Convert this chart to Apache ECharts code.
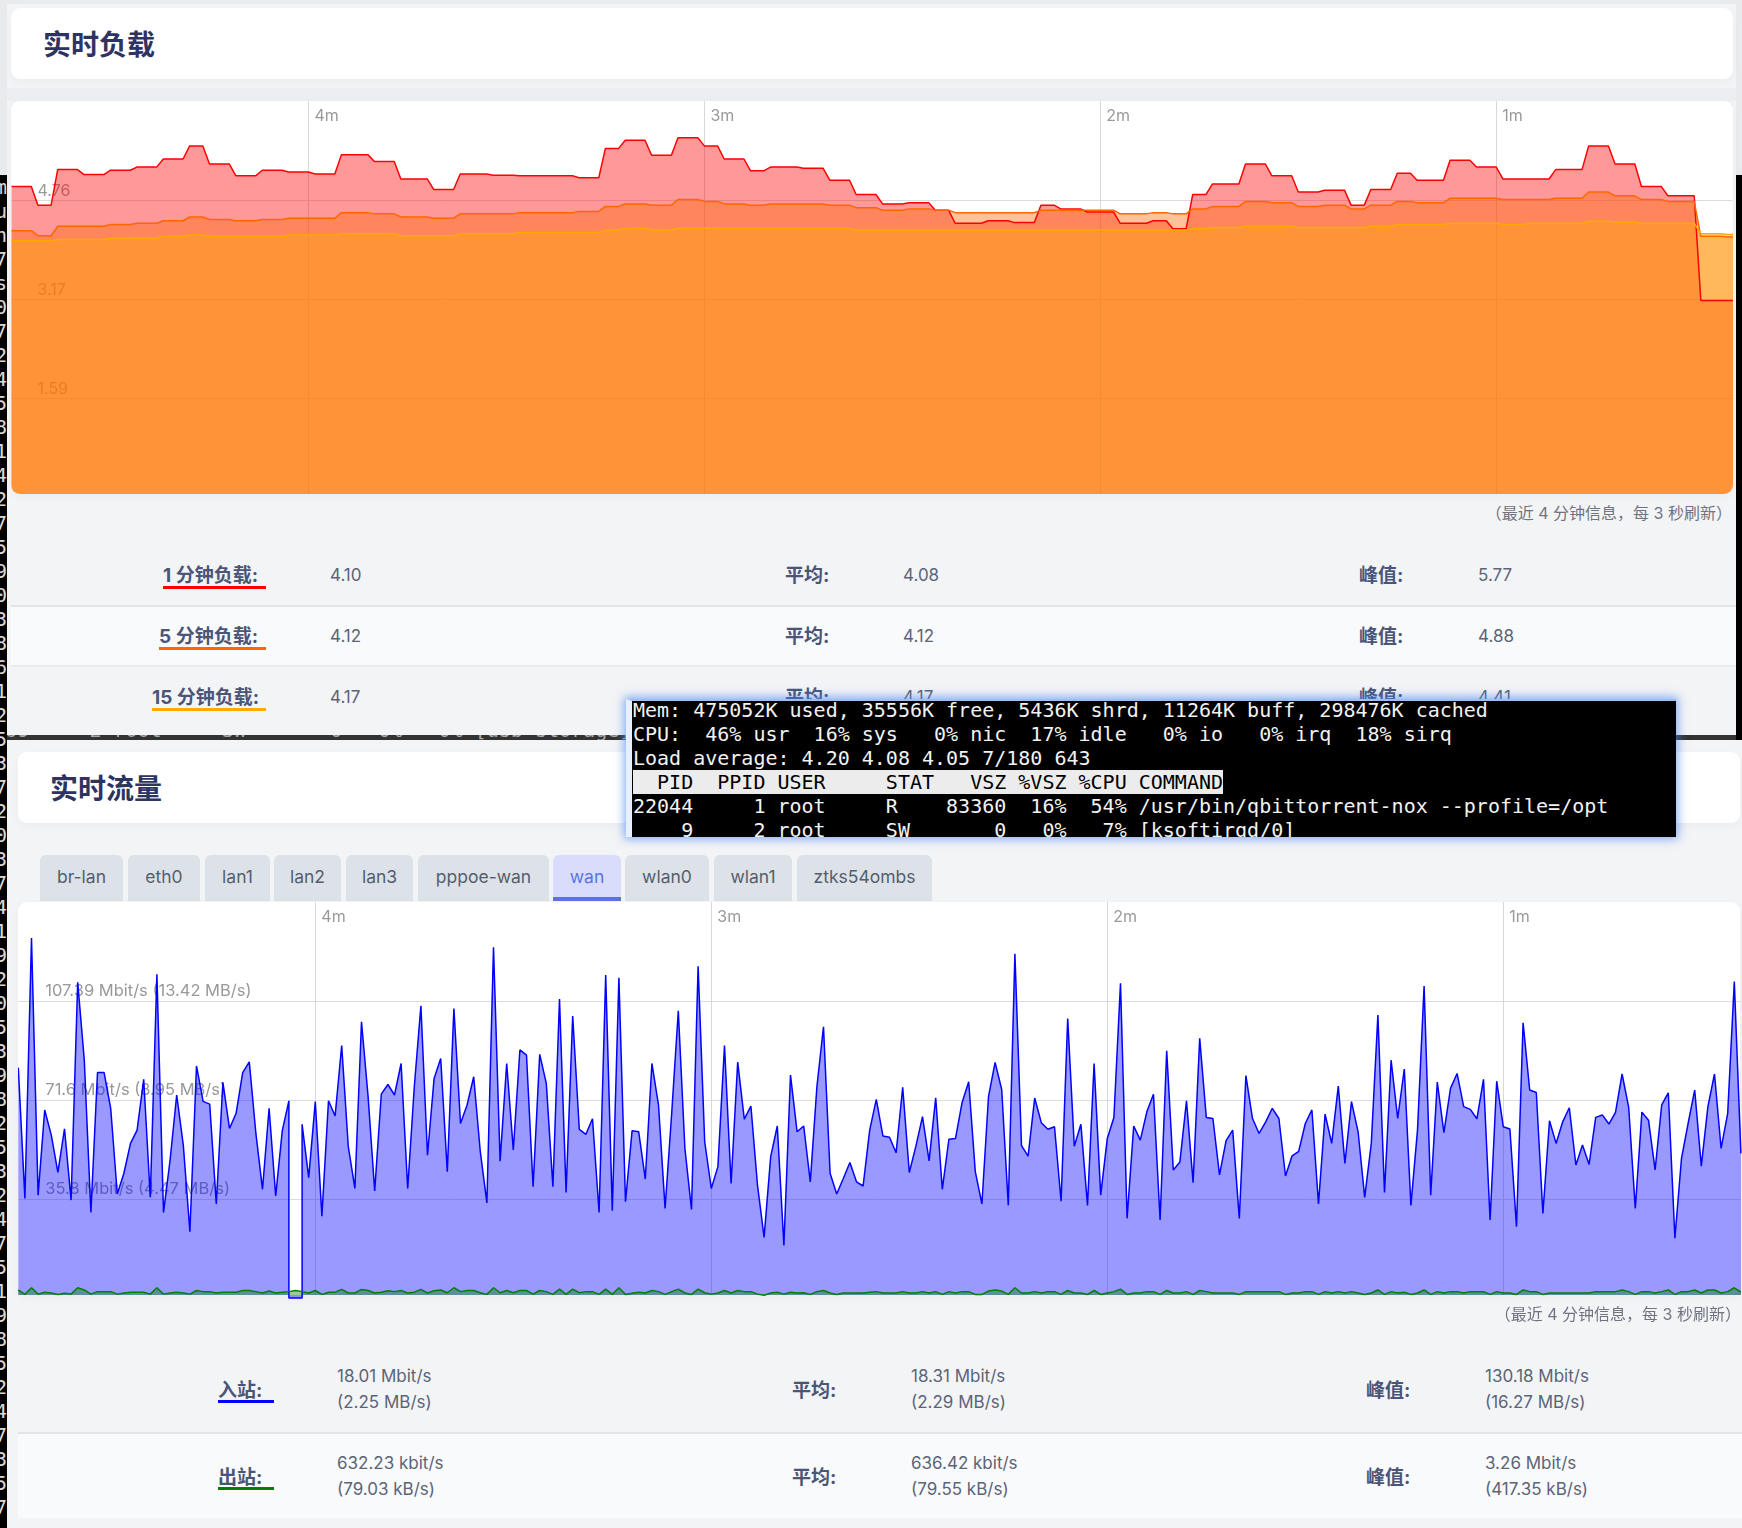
<!DOCTYPE html>
<html>
<head>
<meta charset="utf-8">
<title>realtime</title>
<script src="https://cdn.jsdelivr.net/npm/echarts@6/dist/echarts.min.js"></script>
<style>
html, body { margin: 0; padding: 0; background: #000; }
body { position: relative; width: 1742px; height: 1528px; overflow: hidden;
  font-family: Inter, "Noto Sans CJK SC", sans-serif; }
div { box-sizing: border-box; }
.abs { position: absolute; }
.win { position: absolute; background: #f3f4f6; }
.card { position: absolute; background: #fff; border-radius: 9px; box-shadow: 0 3px 10px rgba(0,0,0,.035); }
.title { position: absolute; font-weight: 700; font-size: 28px; color: #2d3460; transform: translateY(-50%); white-space: nowrap; }
.t { position: absolute; transform: translateY(-50%); margin-top: 1px; white-space: nowrap; font-size: 17px; color: #5b6478; }
.b { font-weight: 700; font-size: 19px; color: #4a5578; margin-top: -1px; }
.note { position: absolute; transform: translateY(-50%); white-space: nowrap; font-size: 16px; color: #6f7480; text-align: right; }
.line { position: absolute; height: 3px; }
.row { position: absolute; background: #f9fafb; border-top: 2px solid #e2e4e8; }
.tab { position: absolute; top: 855px; height: 46px; background: #dde2e8; border-radius: 6px 6px 0 0;
  font-size: 17.5px; color: #555e6e; text-align: center; line-height: 43px; }
.tab.on { background: #d9ddfb; color: #5e72e4; border-bottom: 4px solid #5e72e4; }
.chart { position: absolute; }
#term { position: absolute; left: 626px; top: 699px; width: 1050px; height: 138px; background: #000; overflow: hidden;
  border-left: 6px solid #e8f0ff; border-top: 2px solid #9cc0f5; box-shadow: 0 0 9px 2px rgba(70,130,240,.65); }
pre { margin: 0; font-family: "DejaVu Sans Mono", monospace; font-size: 20px; line-height: 24px; }
#term pre { color: #f2f2f2; margin: -3px 0 0 1px; }
#term .inv { background: #ececec; color: #000; display: inline-block; }
.strip { position: absolute; background: #000; overflow: hidden; }
.strip pre { color: #d8d8d8; margin-left: -5px; }
</style>
</head>
<body>

<!-- whatever sits behind the two windows -->
<div class="abs" style="left:0;top:0;width:1742px;height:175px;background:#e9eaec"></div>
<div class="strip" style="left:0;top:175px;width:8px;height:1353px"><pre>m
u
n
7
s
0
7
2
4
5
8
1
4
2
7
5
9
0
3
8
6
1
2
5
3
7
2
0
3
7
4
1
9
2
0
5
3
9
8
2
5
3
2
4
7
5
1
9
8
5
2
4
7
3
5
7</pre></div>

<!-- load window -->
<div class="win" style="left:7px;top:4px;width:1729px;height:732px"></div>
<div class="abs" style="left:7px;top:88px;width:1729px;height:13px;background:#eceef1"></div>
<div class="card" style="left:11px;top:8px;width:1722px;height:71px"></div>
<div class="title" style="left:43px;top:43px">实时负载</div>
<div class="card" style="left:11px;top:101px;width:1722px;height:393px"></div>
<div id="loadChart" class="chart" style="left:11px;top:101px;width:1722px;height:393px;border-radius:9px;overflow:hidden"></div>
<div class="note" style="right:10px;top:512px">（最近 4 分钟信息，每 3 秒刷新）</div>

<div class="row" style="left:11px;top:605px;width:1725px;height:61px"></div>
<div class="abs" style="left:11px;top:665px;width:1725px;height:2px;background:#e8eaed"></div>

<div class="t b" style="left:163px;top:574px">1 分钟负载:</div>
<div class="line" style="left:163px;top:586px;width:103px;background:#ff0000"></div>
<div class="t" style="left:330px;top:574px">4.10</div>
<div class="t b" style="left:785px;top:574px">平均:</div>
<div class="t" style="left:903px;top:574px">4.08</div>
<div class="t b" style="left:1359px;top:574px">峰值:</div>
<div class="t" style="left:1478px;top:574px">5.77</div>

<div class="t b" style="left:159px;top:635px">5 分钟负载:</div>
<div class="line" style="left:159px;top:647px;width:107px;background:#ff6600"></div>
<div class="t" style="left:330px;top:635px">4.12</div>
<div class="t b" style="left:785px;top:635px">平均:</div>
<div class="t" style="left:903px;top:635px">4.12</div>
<div class="t b" style="left:1359px;top:635px">峰值:</div>
<div class="t" style="left:1478px;top:635px">4.88</div>

<div class="t b" style="left:152px;top:696px">15 分钟负载:</div>
<div class="line" style="left:152px;top:708px;width:114px;background:#ffaa00"></div>
<div class="t" style="left:330px;top:696px">4.17</div>
<div class="t b" style="left:785px;top:696px">平均:</div>
<div class="t" style="left:903px;top:696px">4.17</div>
<div class="t b" style="left:1359px;top:696px">峰值:</div>
<div class="t" style="left:1478px;top:696px">4.41</div>

<!-- edge of the terminal showing between the windows -->
<div class="abs" style="left:7px;top:735px;width:1729px;height:5px;background:#333;overflow:hidden"><pre style="position:absolute;left:-38px;top:-17px;color:#aaa">  569     2 root     SW       0   0%   0% [usb-storage]</pre></div>

<!-- traffic window -->
<div class="win" style="left:7px;top:740px;width:1735px;height:788px"></div>
<div class="card" style="left:18px;top:752px;width:1722px;height:71px"></div>
<div class="title" style="left:50px;top:787px">实时流量</div>

<div class="tab" style="left:40px;width:83px">br-lan</div>
<div class="tab" style="left:128px;width:72px">eth0</div>
<div class="tab" style="left:205px;width:65px">lan1</div>
<div class="tab" style="left:274px;width:67px">lan2</div>
<div class="tab" style="left:346px;width:67px">lan3</div>
<div class="tab" style="left:418px;width:131px">pppoe-wan</div>
<div class="tab on" style="left:553px;width:68px">wan</div>
<div class="tab" style="left:625px;width:84px">wlan0</div>
<div class="tab" style="left:714px;width:78px">wlan1</div>
<div class="tab" style="left:797px;width:135px">ztks54ombs</div>

<div class="card" style="left:18px;top:902px;width:1722px;height:393px"></div>
<div id="trafficChart" class="chart" style="left:18px;top:902px;width:1724px;height:400px"></div>
<div class="note" style="right:1px;top:1313px">（最近 4 分钟信息，每 3 秒刷新）</div>

<div class="row" style="left:18px;top:1432px;width:1724px;height:86px"></div>

<div class="t b" style="left:218px;top:1389px">入站:</div>
<div class="line" style="left:218px;top:1400px;width:56px;background:#0000ff"></div>
<div class="t" style="left:337px;top:1375px">18.01 Mbit/s</div>
<div class="t" style="left:337px;top:1401px">(2.25 MB/s)</div>
<div class="t b" style="left:792px;top:1389px">平均:</div>
<div class="t" style="left:911px;top:1375px">18.31 Mbit/s</div>
<div class="t" style="left:911px;top:1401px">(2.29 MB/s)</div>
<div class="t b" style="left:1366px;top:1389px">峰值:</div>
<div class="t" style="left:1485px;top:1375px">130.18 Mbit/s</div>
<div class="t" style="left:1485px;top:1401px">(16.27 MB/s)</div>

<div class="t b" style="left:218px;top:1476px">出站:</div>
<div class="line" style="left:218px;top:1487px;width:56px;background:#008000"></div>
<div class="t" style="left:337px;top:1462px">632.23 kbit/s</div>
<div class="t" style="left:337px;top:1488px">(79.03 kB/s)</div>
<div class="t b" style="left:792px;top:1476px">平均:</div>
<div class="t" style="left:911px;top:1462px">636.42 kbit/s</div>
<div class="t" style="left:911px;top:1488px">(79.55 kB/s)</div>
<div class="t b" style="left:1366px;top:1476px">峰值:</div>
<div class="t" style="left:1485px;top:1462px">3.26 Mbit/s</div>
<div class="t" style="left:1485px;top:1488px">(417.35 kB/s)</div>

<!-- top output pasted over the page -->
<div id="term"><pre>Mem: 475052K used, 35556K free, 5436K shrd, 11264K buff, 298476K cached
CPU:  46% usr  16% sys   0% nic  17% idle   0% io   0% irq  18% sirq
Load average: 4.20 4.08 4.05 7/180 643
<span class="inv">  PID  PPID USER     STAT   VSZ %VSZ %CPU COMMAND</span>
22044     1 root     R    83360  16%  54% /usr/bin/qbittorrent-nox --profile=/opt
    9     2 root     SW       0   0%   7% [ksoftirqd/0]</pre></div>

<script>
// samples are one step apart, ticks sit on these sample numbers
var timeTicks = [45, 105, 165, 225];
var timeLabels = ['4m', '3m', '2m', '1m'];

var loadTicks = [1.59, 3.17, 4.76];
var loadTickLabels = ['1.59', '3.17', '4.76'];

var trafficTicks = [35.8, 71.6, 107.39];
var trafficTickLabels = ['35.8 Mbit/s (4.47 MB/s)', '71.6 Mbit/s (8.95 MB/s)', '107.39 Mbit/s (13.42 MB/s)'];

// 1 minute load
var load1 = [
  4.98, 4.98, 4.98, 4.98, 4.68, 4.68, 4.68, 5.25, 5.25, 5.25, 5.25, 5.17, 5.17, 5.17, 5.17,
  5.24, 5.24, 5.24, 5.24, 5.29, 5.29, 5.29, 5.29, 5.42, 5.42, 5.42, 5.42, 5.63, 5.63, 5.63,
  5.34, 5.34, 5.34, 5.34, 5.15, 5.15, 5.15, 5.15, 5.24, 5.24, 5.24, 5.24, 5.21, 5.21, 5.21, 5.21,
  5.18, 5.18, 5.18, 5.18, 5.49, 5.49, 5.49, 5.49, 5.49, 5.38, 5.38, 5.38, 5.38,
  5.10, 5.10, 5.10, 5.10, 5.10, 4.93, 4.93, 4.93, 4.93, 5.18, 5.18, 5.18, 5.18, 5.18,
  5.16, 5.16, 5.16, 5.16, 5.15, 5.15, 5.15, 5.15, 5.15, 5.15, 5.15, 5.15, 5.15, 5.12, 5.12, 5.12, 5.12,
  5.59, 5.59, 5.59, 5.72, 5.72, 5.72, 5.72, 5.48, 5.48, 5.48, 5.48, 5.76, 5.76, 5.76, 5.76,
  5.63, 5.63, 5.63, 5.42, 5.42, 5.42, 5.42, 5.23, 5.23, 5.23, 5.29, 5.29, 5.29, 5.29, 5.29,
  5.27, 5.27, 5.27, 5.27, 5.08, 5.08, 5.08, 5.08, 4.85, 4.85, 4.85, 4.85, 4.70, 4.70, 4.70, 4.70,
  4.72, 4.72, 4.72, 4.72, 4.60, 4.60, 4.60, 4.39, 4.39, 4.39, 4.39, 4.39, 4.43, 4.43, 4.43, 4.43,
  4.40, 4.40, 4.40, 4.40, 4.68, 4.68, 4.68, 4.62, 4.62, 4.62, 4.62, 4.57, 4.57, 4.57, 4.57, 4.57,
  4.39, 4.39, 4.39, 4.39, 4.39, 4.43, 4.43, 4.43, 4.30, 4.30, 4.30, 4.85, 4.85, 4.85,
  5.02, 5.02, 5.02, 5.02, 5.02, 5.34, 5.34, 5.34, 5.34, 5.15, 5.15, 5.15, 5.15, 4.89, 4.89, 4.89, 4.89,
  4.92, 4.92, 4.92, 4.92, 4.68, 4.68, 4.68, 4.93, 4.93, 4.93, 4.93, 5.19, 5.19, 5.19,
  5.08, 5.08, 5.08, 5.08, 5.08, 5.40, 5.40, 5.40, 5.40, 5.29, 5.29, 5.29, 5.29,
  5.10, 5.10, 5.10, 5.10, 5.10, 5.10, 5.10, 5.10, 5.25, 5.25, 5.25, 5.25, 5.25,
  5.63, 5.63, 5.63, 5.63, 5.34, 5.34, 5.34, 5.34, 4.98, 4.98, 4.98, 4.98,
  4.83, 4.83, 4.83, 4.83, 4.83, 3.15, 3.15, 3.15, 3.15, 3.15, 3.15
];

// 5 minute load
var load5 = [
  4.27, 4.27, 4.27, 4.27, 4.19, 4.19, 4.19, 4.34, 4.34, 4.34, 4.34, 4.34, 4.34, 4.34, 4.34,
  4.37, 4.37, 4.37, 4.37, 4.39, 4.39, 4.39, 4.39, 4.43, 4.43, 4.43, 4.43, 4.49, 4.49, 4.49,
  4.45, 4.45, 4.45, 4.45, 4.43, 4.43, 4.43, 4.43, 4.45, 4.45, 4.45, 4.45,
  4.47, 4.47, 4.47, 4.47, 4.47, 4.47, 4.47, 4.47, 4.56, 4.56, 4.56, 4.56, 4.56, 4.54, 4.54, 4.54, 4.54,
  4.49, 4.49, 4.49, 4.49, 4.49, 4.47, 4.47, 4.47, 4.47, 4.54, 4.54, 4.54, 4.54, 4.54, 4.54, 4.54, 4.54, 4.54,
  4.56, 4.56, 4.56, 4.56, 4.56, 4.56, 4.56, 4.56, 4.56, 4.58, 4.58, 4.58, 4.58,
  4.66, 4.66, 4.66, 4.70, 4.70, 4.70, 4.70, 4.68, 4.68, 4.68, 4.68, 4.77, 4.77, 4.77, 4.77,
  4.74, 4.74, 4.74, 4.70, 4.70, 4.70, 4.70, 4.68, 4.68, 4.68, 4.70, 4.70, 4.70, 4.70, 4.70, 4.70, 4.70, 4.70, 4.70,
  4.68, 4.68, 4.68, 4.68, 4.64, 4.64, 4.64, 4.64, 4.60, 4.60, 4.60, 4.60, 4.62, 4.62, 4.62, 4.62, 4.60, 4.60, 4.60,
  4.56, 4.56, 4.56, 4.56, 4.56, 4.56, 4.56, 4.56, 4.56, 4.56, 4.56, 4.56, 4.56,
  4.60, 4.60, 4.60, 4.60, 4.60, 4.60, 4.60, 4.60, 4.60, 4.60, 4.60, 4.60,
  4.54, 4.54, 4.54, 4.54, 4.54, 4.56, 4.56, 4.56, 4.54, 4.54, 4.54, 4.62, 4.62, 4.62,
  4.66, 4.66, 4.66, 4.66, 4.66, 4.74, 4.74, 4.74, 4.74, 4.72, 4.72, 4.72, 4.72, 4.66, 4.66, 4.66, 4.66,
  4.68, 4.68, 4.68, 4.68, 4.62, 4.62, 4.62, 4.68, 4.68, 4.68, 4.68, 4.74, 4.74, 4.74,
  4.72, 4.72, 4.72, 4.72, 4.72, 4.79, 4.79, 4.79, 4.79, 4.79, 4.79, 4.79, 4.79,
  4.77, 4.77, 4.77, 4.77, 4.77, 4.77, 4.77, 4.77, 4.79, 4.79, 4.79, 4.79, 4.79,
  4.89, 4.89, 4.89, 4.89, 4.83, 4.83, 4.83, 4.83, 4.77, 4.77, 4.77, 4.77,
  4.74, 4.74, 4.74, 4.74, 4.74, 4.18, 4.18, 4.18, 4.18, 4.17, 4.17
];

// 15 minute load
var load15 = [
  4.11, 4.11, 4.11, 4.11, 4.11, 4.11, 4.11, 4.13, 4.13, 4.13, 4.13, 4.13, 4.13, 4.13, 4.13,
  4.15, 4.15, 4.15, 4.15, 4.15, 4.15, 4.15, 4.15, 4.18, 4.18, 4.18, 4.18, 4.20, 4.20, 4.20,
  4.18, 4.18, 4.18, 4.18, 4.18, 4.18, 4.18, 4.18, 4.18, 4.18, 4.18, 4.18,
  4.20, 4.20, 4.20, 4.20, 4.20, 4.20, 4.20, 4.20, 4.22, 4.22, 4.22, 4.22, 4.22, 4.22, 4.22, 4.22, 4.22,
  4.19, 4.19, 4.19, 4.19, 4.19, 4.19, 4.19, 4.19, 4.19, 4.22, 4.22, 4.22, 4.22, 4.22, 4.22, 4.22, 4.22, 4.22,
  4.24, 4.24, 4.24, 4.24, 4.24, 4.24, 4.24, 4.24, 4.24, 4.24, 4.24, 4.24, 4.24,
  4.28, 4.28, 4.28, 4.31, 4.31, 4.31, 4.31, 4.28, 4.28, 4.28, 4.28,
  4.31, 4.31, 4.31, 4.31, 4.31, 4.31, 4.31, 4.31, 4.31, 4.31, 4.31, 4.31, 4.31, 4.31,
  4.31, 4.31, 4.31, 4.31, 4.31, 4.31, 4.31, 4.31, 4.31, 4.31, 4.31, 4.31, 4.31,
  4.28, 4.28, 4.28, 4.28, 4.28, 4.28, 4.28, 4.28, 4.28, 4.28, 4.28, 4.28, 4.28, 4.28, 4.28, 4.28, 4.28,
  4.28, 4.28, 4.28, 4.28, 4.28, 4.28, 4.28, 4.28, 4.28, 4.28, 4.28, 4.28, 4.28, 4.28, 4.28, 4.28, 4.28,
  4.28, 4.28, 4.28, 4.28, 4.28, 4.28, 4.28, 4.28, 4.28, 4.28, 4.28, 4.28, 4.28, 4.28, 4.28, 4.28, 4.28,
  4.30, 4.30, 4.30, 4.32, 4.32, 4.32, 4.32, 4.32, 4.34, 4.34, 4.34, 4.34, 4.34, 4.34, 4.34, 4.34,
  4.32, 4.32, 4.32, 4.32, 4.32, 4.32, 4.32, 4.32, 4.32, 4.32, 4.32, 4.34, 4.34, 4.34, 4.34,
  4.37, 4.37, 4.37, 4.37, 4.37, 4.37, 4.37, 4.37, 4.39, 4.39, 4.39, 4.39, 4.39, 4.39, 4.39, 4.39,
  4.37, 4.37, 4.37, 4.37, 4.39, 4.39, 4.39, 4.39, 4.39, 4.39, 4.39, 4.39, 4.39,
  4.42, 4.42, 4.42, 4.42, 4.41, 4.41, 4.41, 4.41, 4.39, 4.39, 4.39, 4.39, 4.39, 4.39, 4.39, 4.39, 4.39,
  4.22, 4.22, 4.22, 4.22, 4.21, 4.21
];

// wan inbound, Mbit/s
var inbound = [
  83.3, 36.0, 130.2, 37.2, 68.0, 58.9, 45.4, 61.2, 35.4, 114.2,
  86.0, 30.9, 81.5, 81.5, 68.6, 37.6, 45.1, 55.9, 60.7, 79.1,
  36.4, 117.1, 30.9, 49.9, 73.4, 55.3, 24.0, 83.9, 71.1, 70.1,
  34.0, 78.0, 61.3, 66.8, 81.5, 85.4, 59.5, 39.3, 68.6, 36.9,
  60.5, 71.3, 0, 62.8, 43.5, 71.0, 29.6, 71.3, 65.8, 91.3,
  54.7, 39.6, 99.9, 72.8, 38.7, 73.7, 77.2, 73.4, 84.8, 39.6,
  76.4, 105.7, 51.6, 79.4, 86.6, 45.7, 104.7, 63.1, 69.8, 80.0,
  52.9, 34.4, 126.8, 49.5, 84.8, 53.5, 89.7, 87.8, 40.2, 88.1,
  77.6, 40.2, 108.1, 38.2, 102.0, 61.0, 59.2, 64.8, 30.9, 116.8,
  31.6, 115.8, 34.8, 60.5, 60.1, 43.0, 84.8, 69.8, 32.4, 66.8,
  103.9, 54.1, 32.0, 120.0, 56.5, 39.6, 47.5, 91.3, 41.4, 85.3,
  64.7, 69.4, 40.8, 21.9, 51.1, 62.2, 19.0, 80.6, 60.1, 62.2,
  42.0, 76.4, 98.1, 45.1, 37.6, 43.2, 49.0, 42.0, 40.5, 60.7,
  71.8, 58.6, 58.1, 52.5, 76.2, 45.4, 54.9, 65.6, 49.6, 72.4,
  39.3, 57.4, 57.7, 70.7, 78.2, 45.7, 34.0, 72.8, 85.2, 75.4,
  33.5, 124.5, 55.1, 51.3, 72.3, 63.4, 61.0, 61.9, 35.0, 101.1,
  54.9, 62.8, 33.5, 84.8, 37.2, 57.7, 65.3, 113.8, 28.8, 62.2,
  57.1, 67.4, 73.7, 28.2, 89.4, 46.3, 49.2, 71.3, 41.7, 93.9,
  65.3, 64.9, 44.5, 56.9, 60.7, 28.8, 80.4, 64.9, 59.5, 63.7,
  68.6, 64.9, 44.1, 51.4, 53.0, 63.1, 68.0, 34.0, 66.5, 55.9,
  76.6, 48.7, 71.0, 60.1, 36.4, 55.9, 102.3, 38.2, 86.0, 64.9,
  82.8, 33.5, 60.7, 112.8, 37.2, 78.1, 59.8, 75.8, 81.2, 69.2,
  68.2, 64.8, 79.1, 28.2, 78.4, 61.9, 61.1, 25.8, 99.5, 75.2,
  74.3, 30.6, 64.1, 55.9, 63.7, 68.8, 48.1, 55.3, 48.3, 65.3,
  66.2, 62.9, 67.1, 81.0, 68.9, 32.4, 67.2, 64.3, 46.3, 69.8,
  74.2, 21.6, 50.5, 63.1, 75.2, 47.7, 69.2, 81.0, 54.1, 66.8,
  114.4, 52.3
];

// wan outbound, Mbit/s
var outbound = [
  2.9, 1.3, 3.7, 1.4, 2.1, 1.8, 1.3, 1.7, 1.4, 3.7,
  2.9, 1.4, 2.3, 2.3, 2.3, 1.4, 1.8, 2.1, 2.1, 2.1,
  1.4, 3.7, 1.4, 1.8, 2.1, 1.8, 1.4, 2.7, 2.3, 2.3,
  1.8, 2.1, 2.1, 2.1, 2.7, 2.7, 2.3, 1.8, 2.5, 1.8,
  2.1, 2.3, 2.7, 2.3, 1.8, 2.7, 1.3, 2.1, 2.1, 3.1,
  1.8, 1.8, 3.1, 2.7, 1.8, 2.1, 2.6, 2.3, 2.7, 1.8,
  2.1, 3.1, 1.8, 2.6, 2.9, 1.9, 3.7, 2.3, 2.7, 2.7,
  1.9, 1.3, 3.7, 1.9, 2.7, 1.9, 2.7, 2.7, 1.4, 2.7,
  2.3, 1.3, 3.2, 1.3, 3.2, 1.9, 2.3, 2.3, 1.3, 3.2,
  1.3, 3.7, 1.3, 1.7, 2.1, 1.8, 2.7, 2.3, 1.3, 2.3,
  3.2, 1.8, 1.3, 3.2, 1.9, 1.4, 1.8, 2.7, 1.8, 2.7,
  2.3, 2.3, 1.4, 1.0, 1.8, 2.1, 1.4, 2.1, 1.8, 1.9,
  1.3, 2.3, 2.7, 1.8, 1.3, 1.8, 1.8, 1.8, 1.8, 2.1,
  2.3, 1.8, 1.8, 1.8, 2.3, 1.8, 1.8, 2.3, 1.8, 2.3,
  1.3, 2.3, 1.8, 2.3, 2.3, 1.3, 1.3, 2.5, 2.9, 2.5,
  1.3, 3.7, 1.8, 1.8, 2.3, 1.8, 2.3, 2.3, 1.3, 2.7,
  1.8, 1.8, 1.3, 2.7, 1.3, 1.8, 2.3, 3.2, 1.3, 1.8,
  1.8, 2.3, 2.3, 1.3, 2.7, 1.8, 1.8, 2.3, 1.3, 2.7,
  2.3, 1.8, 1.8, 1.8, 1.8, 1.3, 2.3, 2.3, 2.3, 2.3,
  2.3, 2.3, 1.3, 1.8, 1.8, 2.3, 2.3, 1.3, 2.3, 1.8,
  2.3, 1.8, 2.3, 1.8, 1.3, 1.8, 2.9, 1.3, 2.3, 1.8,
  2.1, 1.3, 1.8, 2.9, 1.3, 2.3, 1.8, 2.3, 2.3, 1.8,
  2.3, 2.3, 2.3, 1.3, 2.3, 1.8, 1.8, 1.3, 2.9, 2.3,
  2.3, 1.3, 1.8, 1.8, 1.8, 1.8, 1.8, 1.8, 1.8, 2.3,
  2.3, 2.3, 2.3, 2.9, 2.3, 1.3, 2.3, 2.3, 1.8, 2.3,
  2.9, 1.3, 2.3, 2.3, 2.9, 1.8, 2.9, 2.9, 1.8, 2.3,
  3.7, 2.1
];

function pairs(values) {
  return values.map(function (v, i) { return [i, v]; });
}

// the inbound line drops straight down and comes straight back up around the dropout
function inboundPoints() {
  var out = [];
  inbound.forEach(function (v, i) {
    if (i === 43) out.push([43, 0]);
    out.push([i, v]);
    if (i === 41) out.push([41, 0]);
  });
  return out;
}

function areaSeries(data, line, fill, clip) {
  return {
    type: 'line',
    data: data,
    showSymbol: false,
    silent: true,
    clip: clip,
    lineStyle: { color: line, width: 1.5 },
    itemStyle: { color: line },
    areaStyle: { color: fill, opacity: 1, origin: 'start' }
  };
}

function timeAxis(max) {
  return {
    type: 'value',
    position: 'top',
    min: 0,
    max: max,
    axisLine: { show: false },
    axisTick: { show: false, customValues: timeTicks },
    splitLine: { show: true, lineStyle: { color: '#d8d8d8', width: 1 } },
    axisLabel: {
      inside: true,
      customValues: timeTicks,
      align: 'left',
      verticalAlign: 'top',
      margin: 7,
      padding: [0, 0, 0, 6],
      fontFamily: 'Inter',
      fontSize: 16,
      color: '#999',
      formatter: function (value) {
        return timeLabels[timeTicks.indexOf(value)];
      }
    }
  };
}

function valueAxis(min, max, ticks, labels, margin, fontSize) {
  return {
    type: 'value',
    min: min,
    max: max,
    axisLine: { show: false },
    axisTick: { show: false, customValues: ticks },
    splitLine: { show: true, lineStyle: { color: '#dcdcdc', width: 1 } },
    axisLabel: {
      inside: true,
      customValues: ticks,
      align: 'left',
      verticalAlign: 'bottom',
      margin: margin,
      padding: [0, 0, 1, 0],
      fontFamily: 'Inter',
      fontSize: fontSize,
      color: '#999',
      formatter: function (value) {
        return labels[ticks.indexOf(value)];
      }
    }
  };
}

var loadChart = echarts.init(document.getElementById('loadChart'));
loadChart.setOption({
  animation: false,
  grid: { left: 0.5, top: 0, width: 1721, height: 393 },
  xAxis: timeAxis(260.8),
  yAxis: valueAxis(0.048, 6.35, loadTicks, loadTickLabels, 26, 16),
  series: [
    areaSeries(pairs(load1), '#ff0000', 'rgba(255,0,0,0.4)', true),
    areaSeries(pairs(load5), '#ff6600', 'rgba(255,102,0,0.4)', true),
    areaSeries(pairs(load15), '#ffaa00', 'rgba(255,170,0,0.4)', true)
  ]
});

var trafficChart = echarts.init(document.getElementById('trafficChart'));
trafficChart.setOption({
  animation: false,
  grid: { left: 0.3, top: 0, width: 1722.6, height: 393 },
  xAxis: timeAxis(261),
  yAxis: valueAxis(1.08, 143.2, trafficTicks, trafficTickLabels, 27, 16.5),
  series: [
    areaSeries(inboundPoints(), '#0000ff', 'rgba(0,0,255,0.4)', false),
    areaSeries(pairs(outbound), '#008000', 'rgba(0,128,0,0.4)', false)
  ]
});

window.addEventListener('resize', function () {
  loadChart.resize();
  trafficChart.resize();
});
</script>
</body>
</html>
